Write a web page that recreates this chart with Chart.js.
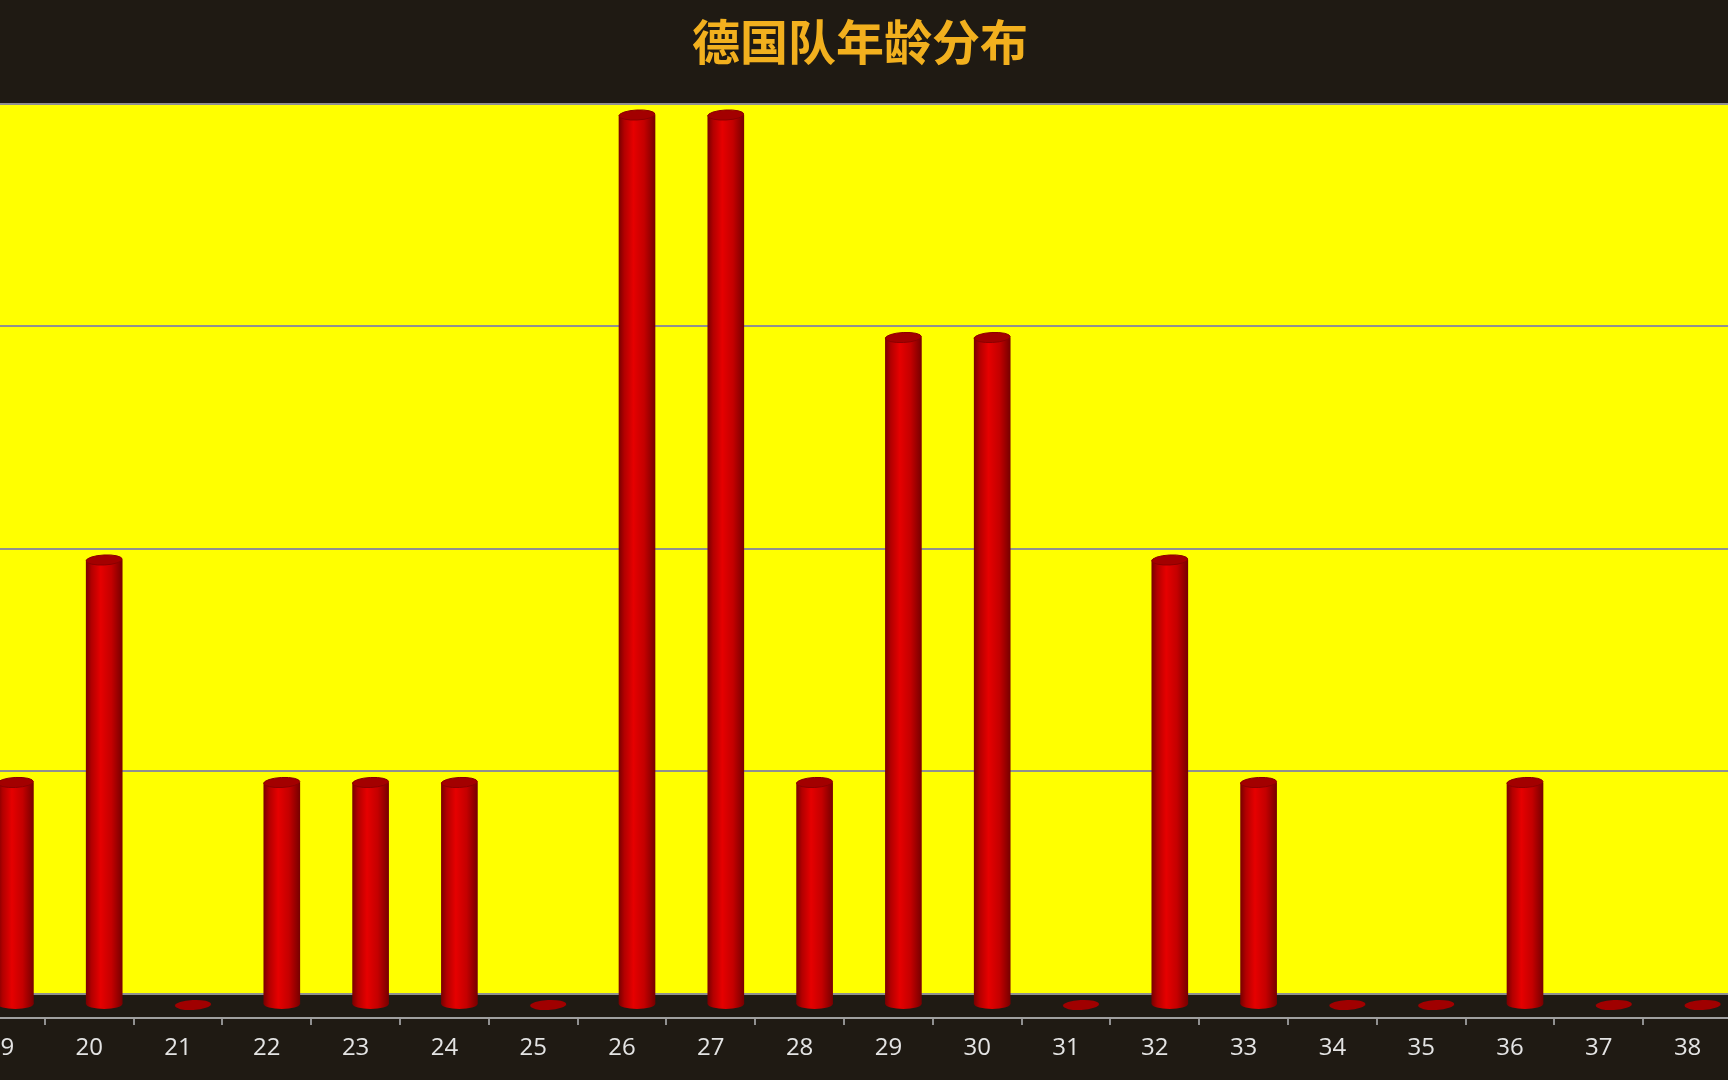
<!DOCTYPE html>
<html>
<head>
<meta charset="utf-8">
<title>德国队年龄分布</title>
<script src="https://cdn.jsdelivr.net/npm/chart.js@4/dist/chart.umd.min.js"></script>
<style>
  html, body { margin: 0; padding: 0; background: #1f1a13; overflow: hidden; width: 1728px; height: 1080px; }
  #wrap { position: absolute; left: -44px; top: 0; width: 1776px; height: 1080px; }
</style>
</head>
<body>
<div id="wrap"><canvas id="ageChart" width="1776" height="1080"></canvas></div>
<script>
/* --------------- Data --------------------- */
const ages = ["19", "20", "21", "22", "23", "24", "25", "26", "27", "28",
              "29", "30", "31", "32", "33", "34", "35", "36", "37", "38"];
const players = [1, 2, 0, 1, 1, 1, 0, 4, 4, 1, 3, 3, 0, 2, 1, 0, 0, 1, 0, 0];
const yTicks = [0, 1, 2, 3, 4];
const chartTitle = "德国队年龄分布";

/* --------------- Colors --------------------- */
const darkBg = "#1f1a13";
const wallColor = "#ffff00";
const gridColor = "#909090";
const barHalf = 18;

// cylinder shading across the bar
function cylinderFill(ctx, px) {
  if (!Number.isFinite(px)) return "#c80000";
  const g = ctx.createLinearGradient(px - barHalf, 0, px + barHalf, 0);
  g.addColorStop(0, "#7a0000");
  g.addColorStop(0.15, "#b30000");
  g.addColorStop(0.4, "#e60000");
  g.addColorStop(0.7, "#c40000");
  g.addColorStop(1, "#780000");
  return g;
}

/* --------------- Background, title + 3D look --------------------- */
const wallPlugin = {
  id: "wall",
  beforeDraw(chart) {
    const { ctx, chartArea, scales } = chart;
    ctx.save();
    ctx.fillStyle = darkBg;
    ctx.fillRect(0, 0, chart.width, chart.height);
    ctx.fillStyle = wallColor;
    const y0 = scales.y.getPixelForValue(0);
    ctx.fillRect(0, chartArea.top, chart.width, y0 - chartArea.top);
    ctx.restore();
  },
  beforeDatasetsDraw(chart) {
    chart.ctx.save();
    chart.ctx.translate(15, 11); // perspective shift of the cylinders
  },
  afterDatasetsDraw(chart) {
    const ctx = chart.ctx;
    const meta = chart.getDatasetMeta(0);
    meta.data.forEach((bar, i) => {
      const p = bar.getProps(["x", "y", "base"], true);
      // bottom rim
      ctx.beginPath();
      ctx.ellipse(p.x, p.base, barHalf, 5, players[i] === 0 ? -0.05 : 0, 0, Math.PI * 2);
      ctx.fillStyle = players[i] === 0 ? "#a00000" : cylinderFill(ctx, p.x);
      ctx.fill();
      if (players[i] > 0) {
        // top cap
        ctx.beginPath();
        ctx.ellipse(p.x, p.y, barHalf, 5, -0.05, 0, Math.PI * 2);
        ctx.fillStyle = "#a30000";
        ctx.fill();
        ctx.strokeStyle = "#8a0000";
        ctx.lineWidth = 1;
        ctx.stroke();
      }
    });
    ctx.restore();
  },
  afterDraw(chart) {
    // title sits a little right of the canvas centre in the original
    const ctx = chart.ctx;
    ctx.save();
    ctx.fillStyle = "#f2b01e";
    ctx.font = "bold 48px 'Noto Sans CJK SC', sans-serif";
    ctx.textAlign = "center";
    ctx.textBaseline = "middle";
    ctx.fillText(chartTitle, chart.width / 2 + 16, 42);
    ctx.restore();
  },
};

/* --------------- Chart --------------------- */
const ageChart = new Chart(document.getElementById("ageChart"), {
  type: "bar",
  plugins: [wallPlugin],
  data: {
    labels: ages,
    datasets: [
      {
        data: players,
        barThickness: barHalf * 2,
        borderWidth: 0,
        backgroundColor: (c) => {
          const xs = c.chart.scales.x;
          if (!xs || c.dataIndex === undefined) return "#c80000";
          return cylinderFill(c.chart.ctx, xs.getPixelForValue(c.dataIndex));
        },
      },
    ],
  },
  options: {
    responsive: false,
    animation: false,
    layout: { padding: { top: 104, left: 0, right: 0, bottom: 0 } },
    plugins: {
      legend: { display: false },
      tooltip: { enabled: false },
      title: { display: false },
    },
    scales: {
      x: {
        offset: true,
        grid: { drawOnChartArea: false, drawTicks: true, tickLength: 7, color: gridColor, lineWidth: 2, offset: true },
        border: { display: true, color: "#a0a0a0", width: 2 },
        ticks: {
          color: "#e4e4e4",
          padding: 9,
          maxRotation: 0,
          autoSkip: false,
          font: { family: "'Open Sans', sans-serif", size: 24 },
        },
        afterFit: (scale) => { scale.height = 62; },
      },
      y: {
        min: -0.108,
        max: yTicks[yTicks.length - 1],
        afterBuildTicks: (scale) => { scale.ticks = yTicks.map((v) => ({ value: v })); },
        ticks: { display: false },
        grid: { drawTicks: false, color: gridColor, lineWidth: 2 },
        border: { display: false },
        afterFit: (scale) => { scale.width = 0; },
      },
    },
  },
});
</script>
</body>
</html>
